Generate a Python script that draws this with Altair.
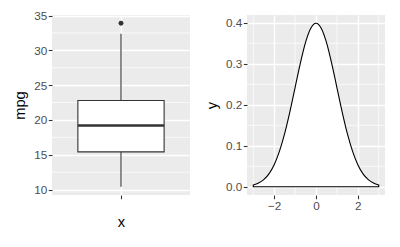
import altair as alt
import pandas as pd

# --- data ---
box_category = [""]
box_lower = [10.4]
box_q1 = [15.425]
box_median = [19.2]
box_q3 = [22.8]
box_upper = [32.4]
outliers = [33.9]

dens_x = [-3.0, -2.75, -2.5, -2.25, -2.0, -1.75, -1.5, -1.25, -1.0, -0.75, -0.5, -0.25,
          0.0, 0.25, 0.5, 0.75, 1.0, 1.25, 1.5, 1.75, 2.0, 2.25, 2.5, 2.75, 3.0]
dens_y = [0.0044, 0.0091, 0.0175, 0.0317, 0.0540, 0.0863, 0.1295, 0.1826, 0.2420, 0.3011, 0.3521, 0.3867,
          0.3989, 0.3867, 0.3521, 0.3011, 0.2420, 0.1826, 0.1295, 0.0863, 0.0540, 0.0317, 0.0175, 0.0091, 0.0044]

left_major = [10, 15, 20, 25, 30, 35]
left_minor = [12.5, 17.5, 22.5, 27.5, 32.5]
right_x_major = [-2, 0, 2]
right_x_minor = [-3, -1, 1, 3]
right_y_major = [0.0, 0.1, 0.2, 0.3, 0.4]
right_y_minor = [0.05, 0.15, 0.25, 0.35]

FONT = "Liberation Sans"
DARK = "#333333"
W, H = 138, 180

box_df = pd.DataFrame({"cat": box_category, "lower": box_lower, "q1": box_q1,
                       "median": box_median, "q3": box_q3, "upper": box_upper})
out_df = pd.DataFrame({"cat": box_category * len(outliers), "mpg": outliers})
dens_df = pd.DataFrame({"x": dens_x, "y": dens_y})

axis_common = dict(
    domain=False, tickColor=DARK, tickSize=3.7, tickWidth=1.1,
    labelColor="#4D4D4D", labelFontSize=11.7, labelFont=FONT,
    titleFont=FONT, titleFontSize=14.7, titleColor="black", titleFontWeight="normal",
    gridColor="white", gridWidth=1.4,
)

yscale_l = alt.Scale(domain=[9.225, 35.075], nice=False, zero=False)
xscale_l = alt.Scale(domain=box_category, paddingInner=0, paddingOuter=0.1)
yaxis_l = alt.Axis(title="mpg", values=left_major, labelPadding=1.5, titlePadding=6, **axis_common)
xaxis_l = alt.Axis(title="x", labels=False, grid=True, titlePadding=15, **axis_common)


def yl(field):
    return alt.Y(field, scale=yscale_l, axis=yaxis_l, title="mpg")


def xl():
    return alt.X("cat:N", scale=xscale_l, axis=xaxis_l, title="x")


minor_l = alt.Chart(pd.DataFrame({"v": left_minor})).mark_rule(color="white", strokeWidth=0.7).encode(
    y=yl("v:Q"))
whisk_hi = alt.Chart(box_df).mark_rule(color=DARK, strokeWidth=1.1).encode(
    x=xl(), y=yl("q3:Q"), y2="upper:Q")
whisk_lo = alt.Chart(box_df).mark_rule(color=DARK, strokeWidth=1.1).encode(
    x=xl(), y=yl("lower:Q"), y2="q1:Q")
box = alt.Chart(box_df).mark_bar(fill="white", stroke=DARK, strokeWidth=1.1,
                                 width=alt.RelativeBandSize(0.75)).encode(
    x=xl(), y=yl("q1:Q"), y2="q3:Q")
med = alt.Chart(box_df).mark_bar(fill=DARK, stroke=DARK, strokeWidth=2.4,
                                 width=alt.RelativeBandSize(0.75)).encode(
    x=xl(), y=yl("median:Q"), y2="median:Q")
pts = alt.Chart(out_df).mark_circle(color=DARK, size=24, opacity=1).encode(
    x=xl(), y=yl("mpg:Q"))

left = alt.layer(minor_l, whisk_hi, whisk_lo, box, med, pts).properties(width=W, height=H)

xscale_r = alt.Scale(domain=[-3.3, 3.3], nice=False, zero=False)
yscale_r = alt.Scale(domain=[-0.01995, 0.41887], nice=False, zero=False)
xaxis_r = alt.Axis(title=None, values=right_x_major, format="d", labelPadding=2, **axis_common)
yaxis_r = alt.Axis(title="y", values=right_y_major, format=".1f", labelPadding=1.5,
                   titlePadding=6, **axis_common)

minor_rx = alt.Chart(pd.DataFrame({"v": right_x_minor})).mark_rule(color="white", strokeWidth=0.7).encode(
    x=alt.X("v:Q", scale=xscale_r, axis=xaxis_r))
minor_ry = alt.Chart(pd.DataFrame({"v": right_y_minor})).mark_rule(color="white", strokeWidth=0.7).encode(
    y=alt.Y("v:Q", scale=yscale_r, axis=yaxis_r, title="y"))
area = alt.Chart(dens_df).mark_area(fill="white", stroke="black", strokeWidth=1.1,
                                    interpolate="monotone").encode(
    x=alt.X("x:Q", scale=xscale_r, axis=xaxis_r),
    y=alt.Y("y:Q", scale=yscale_r, axis=yaxis_r, title="y"),
    y2=alt.datum(0))

right = alt.layer(minor_rx, minor_ry, area).properties(width=W, height=H)

chart = alt.hconcat(left, right, spacing=57, bounds="flush").properties(
    padding={"left": 12, "top": 10, "right": 5, "bottom": 5},
    background="white",
).configure_view(fill="#EBEBEB", stroke=None)

chart.save("out.html", embed_options={"renderer": "svg", "actions": False})
